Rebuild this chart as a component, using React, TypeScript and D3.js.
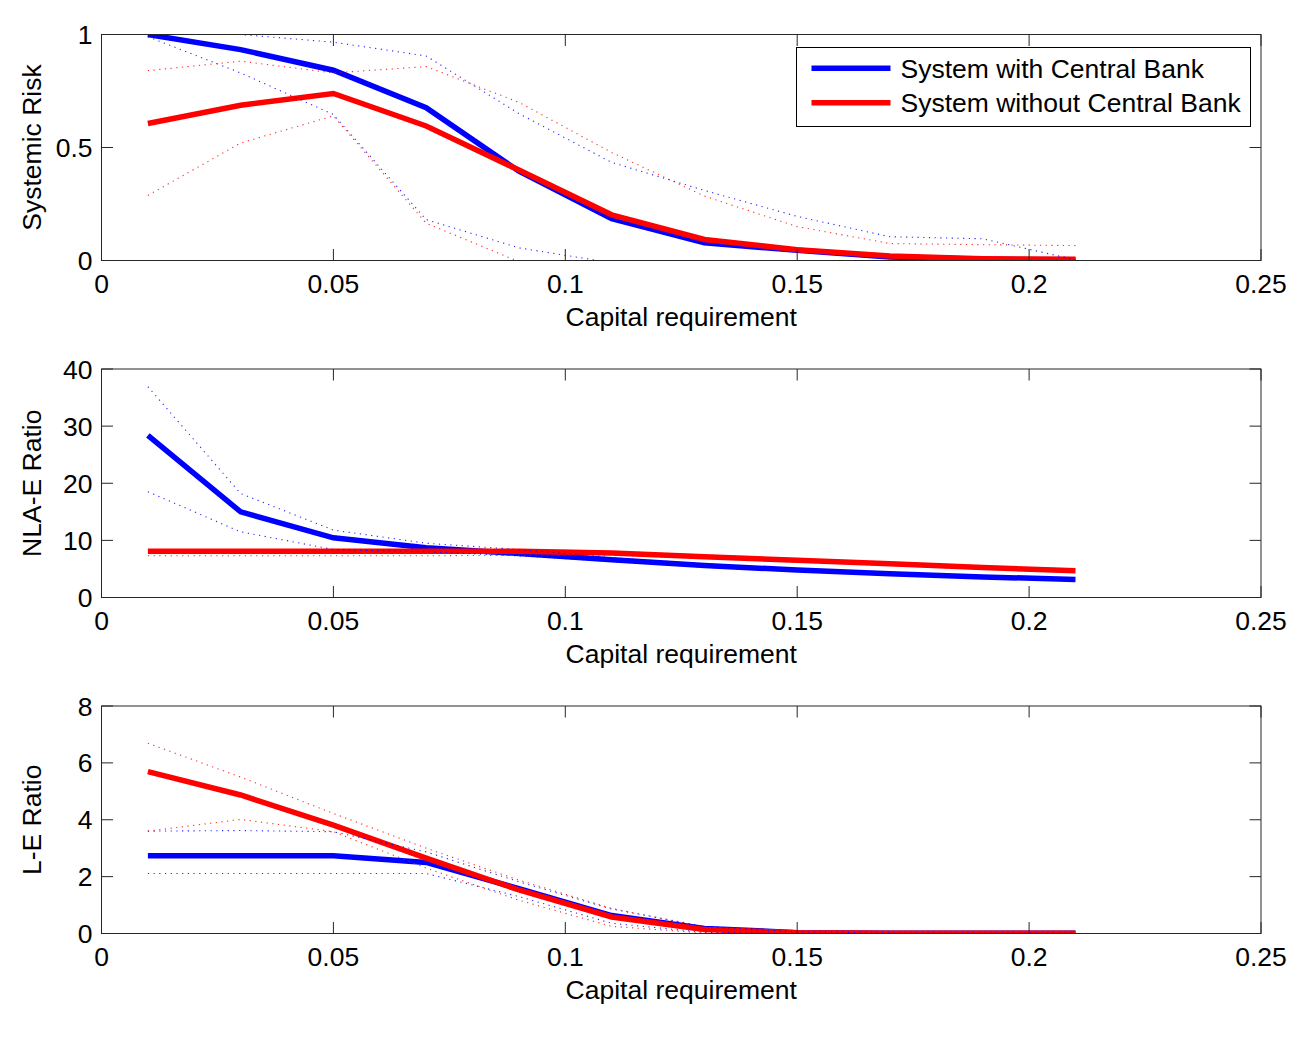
import * as d3 from "d3";

// capital requirement grid (x)
const capital = [0.01, 0.03, 0.05, 0.07, 0.09, 0.11, 0.13, 0.15, 0.17, 0.19, 0.21];

// Systemic risk
const riskCB = [1.0, 0.933, 0.842, 0.676, 0.395, 0.185, 0.078, 0.045, 0.015, 0.006, 0.003];
const riskCBUp = [1.0, 1.0, 0.966, 0.905, 0.65, 0.434, 0.31, 0.195, 0.105, 0.096, 0.003];
const riskCBLo = [0.99, 0.83, 0.646, 0.181, 0.056, -0.01, -0.03, -0.04, -0.04, -0.04, -0.04];
const riskNoCB = [0.606, 0.687, 0.739, 0.595, 0.4, 0.202, 0.093, 0.048, 0.02, 0.008, 0.005];
const riskNoCBUp = [0.84, 0.882, 0.83, 0.858, 0.7, 0.478, 0.285, 0.15, 0.075, 0.07, 0.066];
const riskNoCBLo = [0.288, 0.52, 0.64, 0.165, -0.005, -0.06, -0.06, -0.06, -0.06, -0.06, -0.06];

// NLA-E ratio
const nlaCB = [28.4, 15.0, 10.45, 8.7, 7.7, 6.6, 5.6, 4.8, 4.15, 3.6, 3.15];
const nlaCBUp = [36.9, 18.2, 11.8, 9.5, 8.4, 6.95, 5.9, 5.05, 4.4, 3.85, 3.4];
const nlaCBLo = [18.5, 11.5, 8.4, 8.0, 7.3, 6.3, 5.3, 4.55, 3.95, 3.4, 2.95];
const nlaNoCB = [8.1, 8.1, 8.1, 8.1, 8.1, 7.8, 7.15, 6.5, 5.9, 5.25, 4.7];
const nlaNoCBUp = [8.4, 8.4, 8.4, 8.4, 8.4, 8.1, 7.45, 6.8, 6.2, 5.55, 5.0];
const nlaNoCBLo = [7.3, 7.3, 7.3, 7.3, 7.4, 7.4, 6.85, 6.2, 5.6, 4.95, 4.4];

// L-E ratio
const leCB = [2.73, 2.73, 2.73, 2.5, 1.58, 0.63, 0.18, 0.03, 0.01, 0.01, 0.01];
const leCBUp = [3.6, 3.62, 3.58, 2.87, 1.82, 0.86, 0.25, 0.06, 0.02, 0.02, 0.02];
const leCBLo = [2.11, 2.11, 2.11, 2.11, 1.3, 0.36, 0.04, 0, 0, 0, 0];
const leNoCB = [5.69, 4.87, 3.81, 2.65, 1.53, 0.58, 0.14, 0.03, 0.01, 0.01, 0.01];
const leNoCBUp = [6.69, 5.5, 4.22, 3.0, 1.88, 0.88, 0.23, 0.05, 0.02, 0.02, 0.02];
const leNoCBLo = [3.6, 4.01, 3.58, 2.3, 1.17, 0.25, 0.02, 0, 0, 0, 0];

const xTicks = [0, 0.05, 0.1, 0.15, 0.2, 0.25];
const xTickLabels = ["0", "0.05", "0.1", "0.15", "0.2", "0.25"];
const legendLabels = ["System with Central Bank", "System without Central Bank"];

const BLUE = "#0000ff";
const RED = "#ff0000";
const AXIS = "#262626";
const FONT = "'Liberation Sans', Arial, Helvetica, sans-serif";
const FS = 26.5;
const LEFT = 101.5;
const RIGHT = 1261;
const TICK = 11.5;

type Panel = {
  id: string;
  top: number;
  bottom: number;
  domain: [number, number];
  yTicks: number[];
  yTickLabels: string[];
  ylabel: string;
  cb: number[][];
  noCb: number[][];
};

const panels: Panel[] = [
  {
    id: "risk",
    top: 34.5,
    bottom: 260.5,
    domain: [0, 1],
    yTicks: [0, 0.5, 1],
    yTickLabels: ["0", "0.5", "1"],
    ylabel: "Systemic Risk",
    cb: [riskCB, riskCBUp, riskCBLo],
    noCb: [riskNoCB, riskNoCBUp, riskNoCBLo],
  },
  {
    id: "nla",
    top: 369,
    bottom: 597.5,
    domain: [0, 40],
    yTicks: [0, 10, 20, 30, 40],
    yTickLabels: ["0", "10", "20", "30", "40"],
    ylabel: "NLA-E Ratio",
    cb: [nlaCB, nlaCBUp, nlaCBLo],
    noCb: [nlaNoCB, nlaNoCBUp, nlaNoCBLo],
  },
  {
    id: "le",
    top: 706,
    bottom: 933.5,
    domain: [0, 8],
    yTicks: [0, 2, 4, 6, 8],
    yTickLabels: ["0", "2", "4", "6", "8"],
    ylabel: "L-E Ratio",
    cb: [leCB, leCBUp, leCBLo],
    noCb: [leNoCB, leNoCBUp, leNoCBLo],
  },
];

const xScale = d3.scaleLinear().domain([0, 0.25]).range([LEFT, RIGHT]);

const SubPlot = ({ p }: { p: Panel }) => {
  const yScale = d3.scaleLinear().domain(p.domain).range([p.bottom, p.top]);
  const line = d3
    .line<number>()
    .x((_, i) => xScale(capital[i]))
    .y((d) => yScale(d));
  const clipId = `clip-${p.id}`;
  const midY = (p.top + p.bottom) / 2;

  return (
    <g>
      <defs>
        <clipPath id={clipId}>
          <rect x={LEFT} y={p.top} width={RIGHT - LEFT} height={p.bottom - p.top} />
        </clipPath>
      </defs>
      <g clipPath={`url(#${clipId})`}>
        <path d={line(p.cb[0]) || ""} fill="none" stroke={BLUE} strokeWidth={5.5} />
        <path d={line(p.noCb[0]) || ""} fill="none" stroke={RED} strokeWidth={5.5} />
        {[p.cb[1], p.cb[2]].map((s, i) => (
          <path key={"b" + i} d={line(s) || ""} fill="none" stroke={BLUE} strokeWidth={1.1} strokeDasharray="1.2 4.5" opacity={0.85} />
        ))}
        {[p.noCb[1], p.noCb[2]].map((s, i) => (
          <path key={"r" + i} d={line(s) || ""} fill="none" stroke={RED} strokeWidth={1.1} strokeDasharray="1.2 4.5" opacity={0.85} />
        ))}
      </g>
      {/* box */}
      <rect x={LEFT} y={p.top} width={RIGHT - LEFT} height={p.bottom - p.top} fill="none" stroke={AXIS} strokeWidth={1} />
      {/* x ticks */}
      {xTicks.map((t, i) => (
        <g key={"x" + i}>
          <line x1={xScale(t)} x2={xScale(t)} y1={p.bottom} y2={p.bottom - TICK} stroke={AXIS} />
          <line x1={xScale(t)} x2={xScale(t)} y1={p.top} y2={p.top + TICK} stroke={AXIS} />
          <text x={xScale(t)} y={p.bottom + 32} textAnchor="middle" fontSize={FS} fontFamily={FONT} fill="#000">
            {xTickLabels[i]}
          </text>
        </g>
      ))}
      {/* y ticks */}
      {p.yTicks.map((t, i) => (
        <g key={"y" + i}>
          <line x1={LEFT} x2={LEFT + TICK} y1={yScale(t)} y2={yScale(t)} stroke={AXIS} />
          <line x1={RIGHT} x2={RIGHT - TICK} y1={yScale(t)} y2={yScale(t)} stroke={AXIS} />
          <text x={LEFT - 9} y={yScale(t)} dy="0.36em" textAnchor="end" fontSize={FS} fontFamily={FONT} fill="#000">
            {p.yTickLabels[i]}
          </text>
        </g>
      ))}
      <text x={(LEFT + RIGHT) / 2} y={p.bottom + 65} textAnchor="middle" fontSize={FS} fontFamily={FONT} fill="#000">
        Capital requirement
      </text>
      <text
        transform={`translate(31,${midY}) rotate(-90)`}
        textAnchor="middle"
        dy="0.36em"
        fontSize={FS}
        fontFamily={FONT}
        fill="#000"
      >
        {p.ylabel}
      </text>
    </g>
  );
};

const Legend = () => {
  const x0 = 796.5;
  const y0 = 47.5;
  const w = 454;
  const h = 79;
  const rows = [68.3, 102.7];
  const colors = [BLUE, RED];
  return (
    <g>
      <rect x={x0} y={y0} width={w} height={h} fill="#fff" stroke="#000" strokeWidth={1} />
      {legendLabels.map((l, i) => (
        <g key={l}>
          <line x1={811.5} x2={890.5} y1={rows[i]} y2={rows[i]} stroke={colors[i]} strokeWidth={5.5} />
          <text x={900.5} y={rows[i]} dy="0.36em" fontSize={FS} fontFamily={FONT} fill="#000">
            {l}
          </text>
        </g>
      ))}
    </g>
  );
};

export default function App() {
  return (
    <svg
      width={1300}
      height={1054}
      style={{ position: "absolute", left: 0, top: 0, background: "#fff" }}
    >
      <rect width={1300} height={1054} fill="#fff" />
      {panels.map((p) => (
        <SubPlot key={p.id} p={p} />
      ))}
      <Legend />
    </svg>
  );
}
